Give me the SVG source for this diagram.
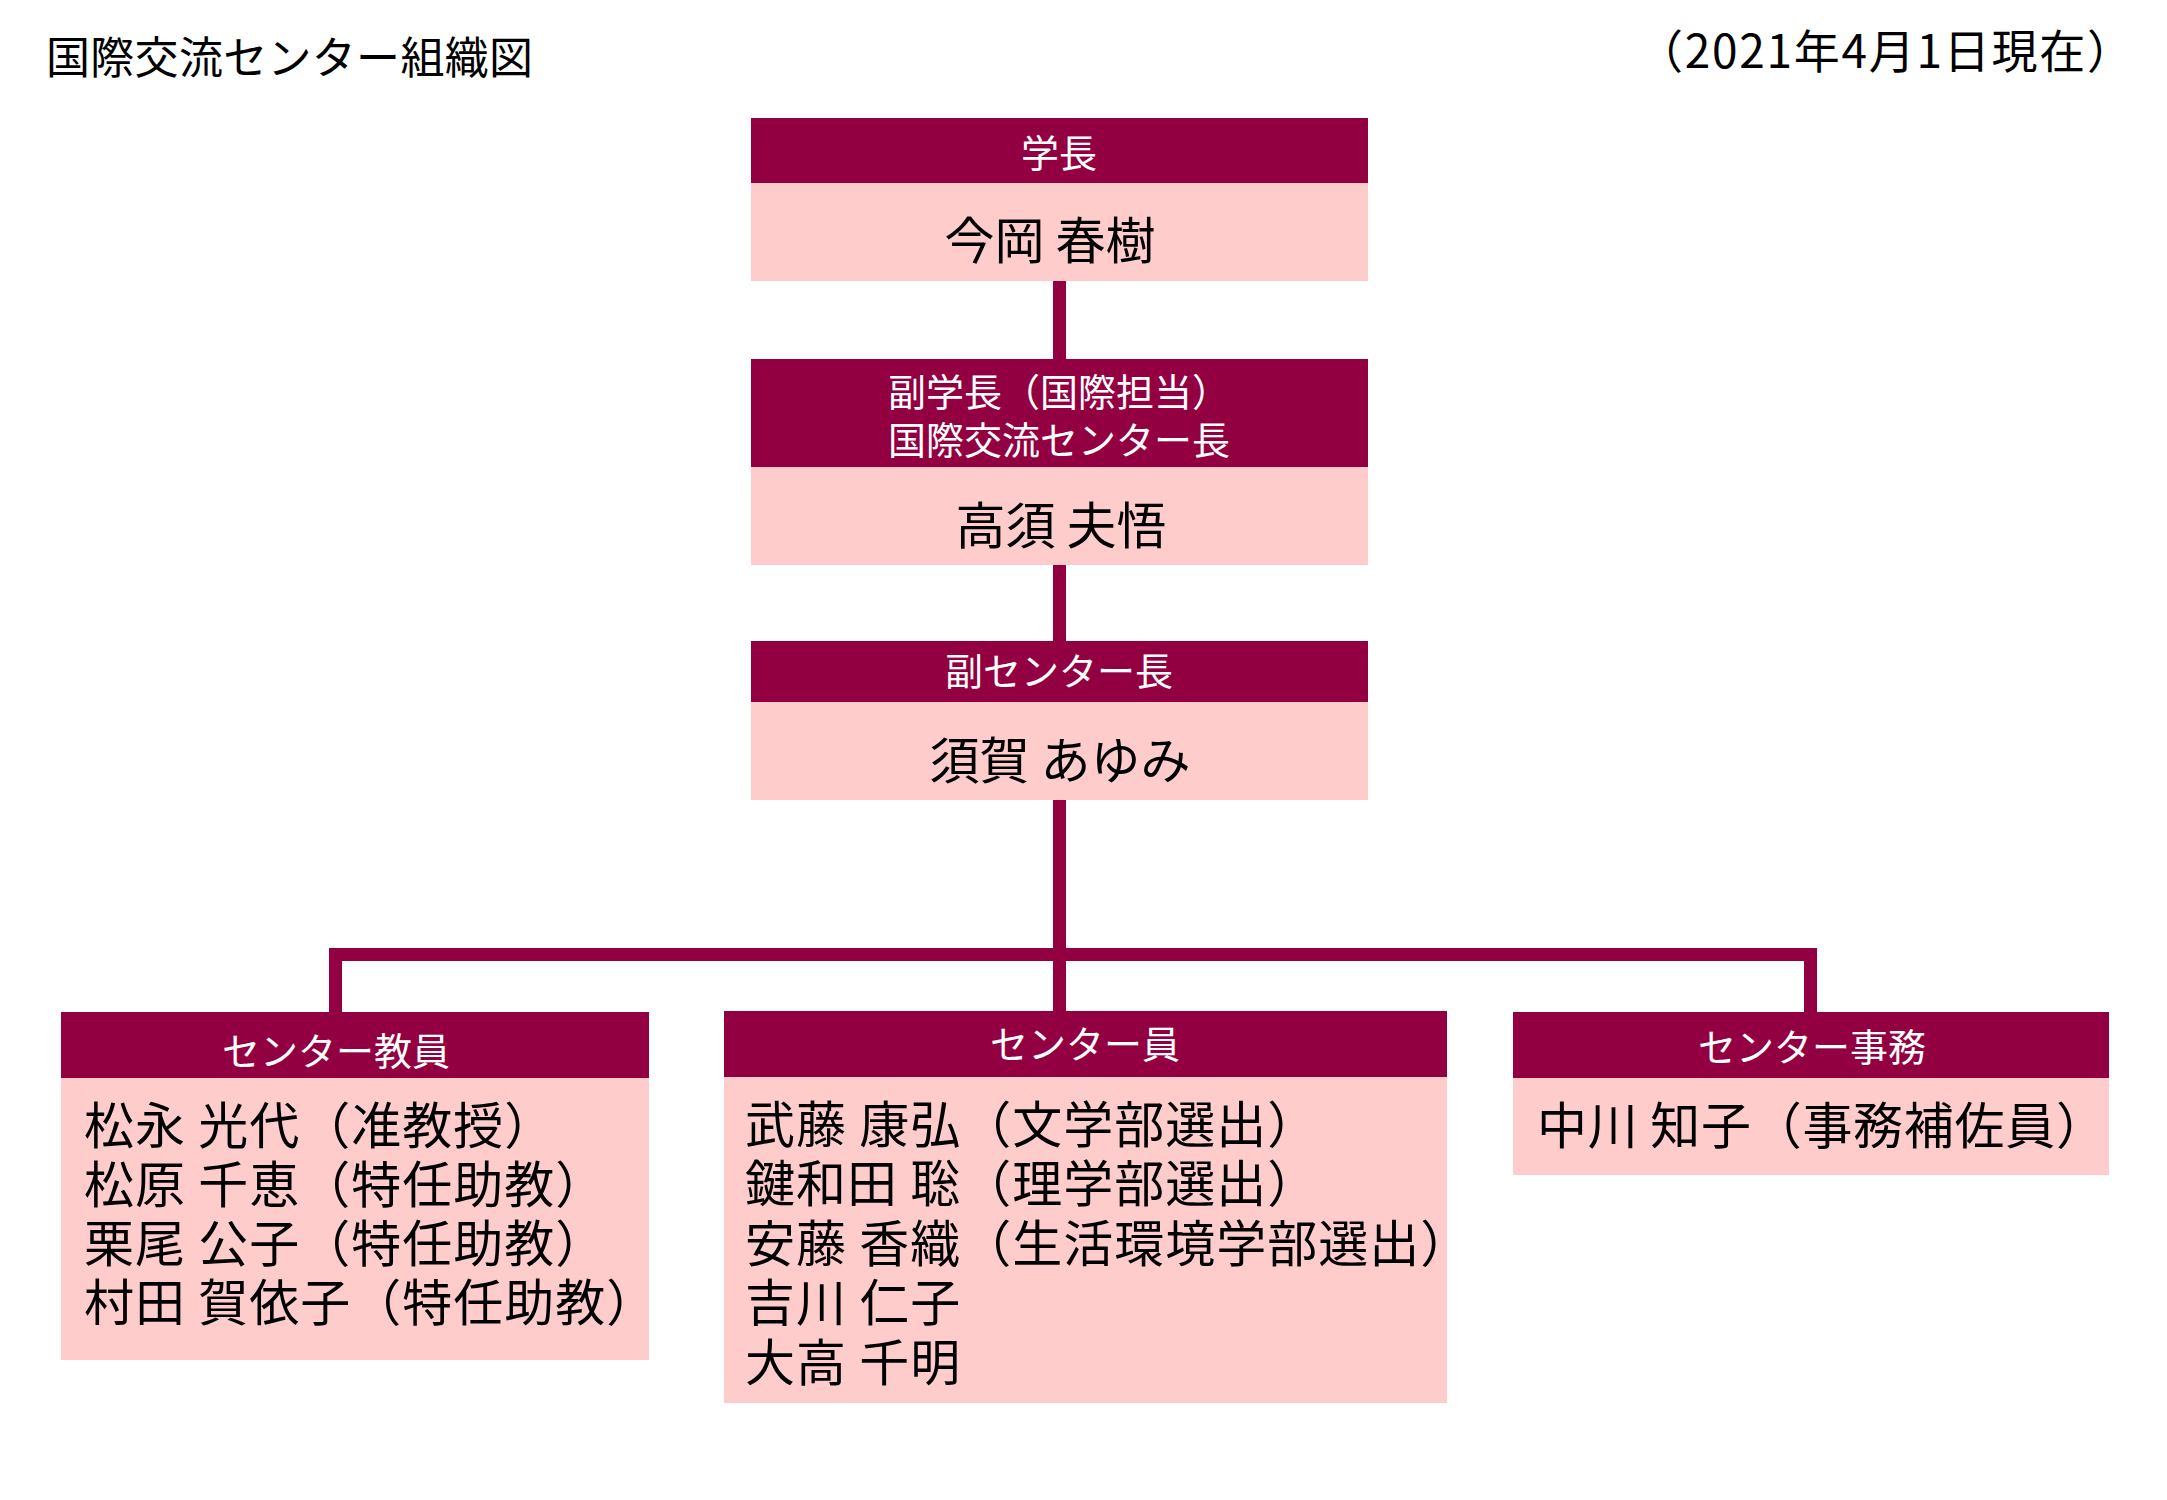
<svg xmlns="http://www.w3.org/2000/svg" width="2167" height="1500" viewBox="0 0 2167 1500">
<style>
text{font-family:"Noto Sans CJK JP","Noto Sans",sans-serif}
.hd{fill:#930042}
.bd{fill:#FFCCCC}
.ht{fill:#ffffff;font-size:38px;text-anchor:middle}
.nm{fill:#000000;font-size:50px}
.nc{text-anchor:middle}
.ls{letter-spacing:1px}
.ln{fill:none;stroke:#930042;stroke-width:13;stroke-linecap:butt}
</style>
<rect width="2167" height="1500" fill="#ffffff"/>
<text x="46" y="74" font-size="44" fill="#000" letter-spacing="0.3">国際交流センター組織図</text>
<text x="1637" y="68" font-size="46" fill="#000" textLength="496" lengthAdjust="spacing">（2021年4月1日現在）</text>
<g id="connectors">
<path class="ln" d="M1059.5 281V359M1059.5 565V641M1059.5 800V1011M329 954.5H1817M335.5 948V1012M1810.5 948V1012"/>
</g>
<g id="president">
<rect class="hd" x="751" y="118" width="617" height="65"/>
<rect class="bd" x="751" y="183" width="617" height="98"/>
<text class="ht" x="1059" y="167">学長</text>
<text class="nm nc" x="1050" y="259">今岡 春樹</text>
</g>
<g id="vice-president">
<rect class="hd" x="751" y="359" width="617" height="108"/>
<rect class="bd" x="751" y="467" width="617" height="98"/>
<text class="ht" x="1059" y="406">副学長（国際担当）</text>
<text class="ht" x="1059" y="454">国際交流センター長</text>
<text class="nm nc" x="1061" y="544">高須 夫悟</text>
</g>
<g id="vice-director">
<rect class="hd" x="751" y="641" width="617" height="61"/>
<rect class="bd" x="751" y="702" width="617" height="98"/>
<text class="ht" x="1059" y="685">副センター長</text>
<text class="nm nc" x="1060" y="779">須賀 あゆみ</text>
</g>
<g id="faculty">
<rect class="hd" x="61" y="1012" width="588" height="66"/>
<rect class="bd" x="61" y="1078" width="588" height="282"/>
<text class="ht" x="336" y="1065">センター教員</text>
<text class="nm ls" x="84" y="1144">松永 光代（准教授）</text>
<text class="nm ls" x="84" y="1203">松原 千恵（特任助教）</text>
<text class="nm ls" x="84" y="1262">栗尾 公子（特任助教）</text>
<text class="nm ls" x="84" y="1321">村田 賀依子（特任助教）</text>
</g>
<g id="members">
<rect class="hd" x="724" y="1011" width="723" height="66"/>
<rect class="bd" x="724" y="1077" width="723" height="326"/>
<text class="ht" x="1085" y="1058">センター員</text>
<text class="nm ls" x="745" y="1143">武藤 康弘（文学部選出）</text>
<text class="nm ls" x="745" y="1202">鍵和田 聡（理学部選出）</text>
<text class="nm ls" x="745" y="1262">安藤 香織（生活環境学部選出）</text>
<text class="nm ls" x="745" y="1321">吉川 仁子</text>
<text class="nm ls" x="745" y="1381">大高 千明</text>
</g>
<g id="office">
<rect class="hd" x="1513" y="1012" width="596" height="66"/>
<rect class="bd" x="1513" y="1078" width="596" height="97"/>
<text class="ht" x="1812" y="1061">センター事務</text>
<text class="nm" x="1537" y="1144" font-size="55" letter-spacing="0.7">中川 知子（事務補佐員）</text>
</g>
</svg>
